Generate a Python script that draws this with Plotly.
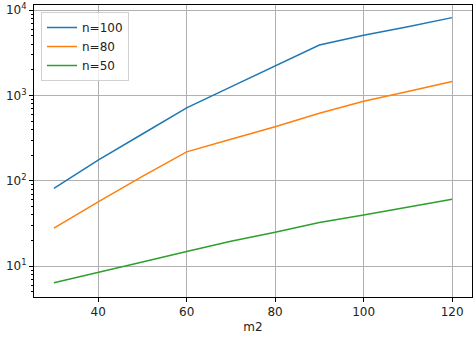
import plotly.graph_objects as go

m2 = [30, 40, 50, 60, 70, 80, 90, 100, 110, 120]
n100 = [82, 175, 355, 718, 1265, 2220, 3920, 5100, 6400, 8200]
n80 = [28, 57, 113, 219, 308, 431, 620, 858, 1120, 1466]
n50 = [6.4, 8.4, 11.2, 14.9, 19.6, 25, 32.5, 40, 49, 61]
series = [("n=100", n100, "#1f77b4"), ("n=80", n80, "#ff7f0e"), ("n=50", n50, "#2ca02c")]

xticks = [40, 60, 80, 100, 120]
yticks = [10, 100, 1000, 10000]
yticktext = ["10<sup>1</sup>", "10<sup>2</sup>", "10<sup>3</sup>", "10<sup>4</sup>"]
yminor = [m * d for d in [1, 10, 100, 1000] for m in range(2, 10)]

fig = go.Figure()
for name, vals, col in series:
    fig.add_trace(go.Scatter(x=m2, y=vals, mode="lines", name=name,
                             line=dict(color=col, width=1.5)))

font = dict(family="DejaVu Sans", size=12, color="#222")
fig.update_layout(
    width=474, height=339,
    margin=dict(l=34, r=1, t=3, b=42),
    paper_bgcolor="white", plot_bgcolor="white",
    font=font,
    legend=dict(x=0.016, y=0.976, xanchor="left", yanchor="top",
                bgcolor="rgba(255,255,255,0.8)", bordercolor="#d0d0d0", borderwidth=1,
                font=font, tracegroupgap=0),
    xaxis=dict(range=[25.5, 124.5], tickvals=xticks, showgrid=True, gridcolor="#b0b0b0",
               gridwidth=1, showline=True, mirror=True, linecolor="black", linewidth=1,
               ticks="outside", ticklen=4, tickcolor="black", zeroline=False,
               ticklabeloverflow="allow",
               title=dict(text="m2", standoff=4, font=font)),
    yaxis=dict(type="log", range=[0.64, 4.062], tickmode="array", tickvals=yticks,
               ticktext=yticktext, ticklabeloverflow="allow",
               showgrid=True, gridcolor="#b0b0b0", gridwidth=1, showline=True, mirror=True,
               linecolor="black", linewidth=1, ticks="outside", ticklen=4, tickcolor="black",
               zeroline=False,
               minor=dict(tickmode="array", tickvals=yminor, ticks="outside", ticklen=2,
                          tickcolor="black", showgrid=False)),
)
fig.write_html("out.html")
